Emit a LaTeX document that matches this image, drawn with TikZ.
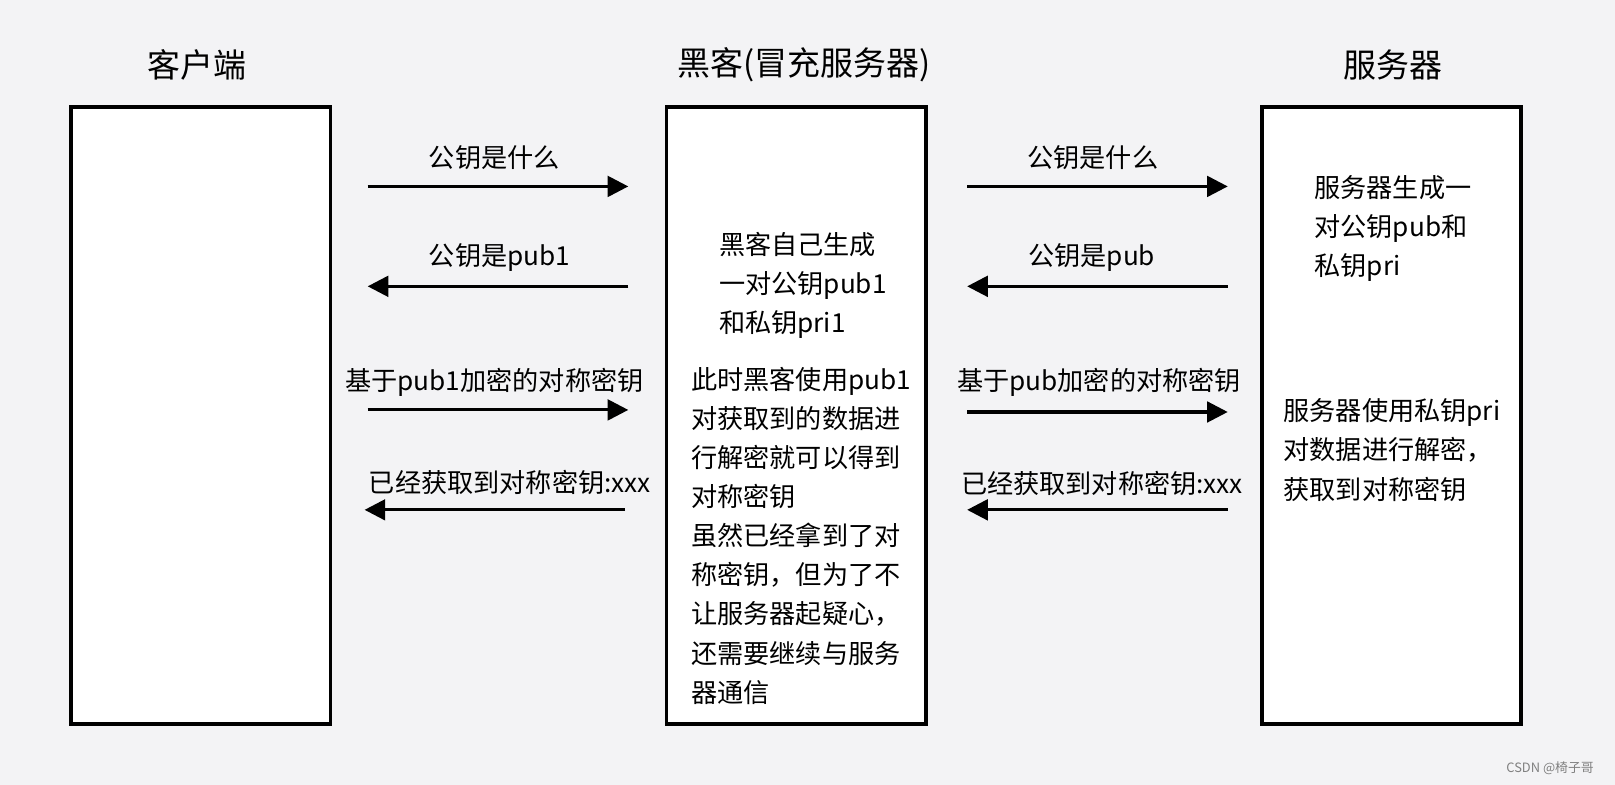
\documentclass[tikz,border=0pt]{standalone}
\usepackage{fontspec}
\setmainfont{Noto Sans CJK SC}
\usetikzlibrary{arrows.meta}
\definecolor{bg}{HTML}{F3F3F5}
\begin{document}
\begin{tikzpicture}[x=1pt,y=-1pt,
  box/.style={draw,line width=3.5pt,fill=white},
  ttl/.style={font=\fontsize{32}{36}\selectfont},
  lab/.style={font=\fontsize{25.4}{28}\selectfont},
  txt/.style={font=\fontsize{25.4}{38}\selectfont,align=left,anchor=north west,inner sep=0pt},
  arr/.style={line width=3pt,-{Triangle[length=20pt,width=20pt]}}]
\fill[bg] (0,0) rectangle (1568,762);
\useasboundingbox (0,0) rectangle (1568,762);
\draw[box] (69,104) rectangle (321,703);
\draw[box] (647,104) rectangle (899,703);
\draw[box] (1225,104) rectangle (1477,703);
\node[ttl] (t1) at (191,63) {客户端};
\node[ttl] (t2) at (781,63) {黑客(冒充服务器)};
\node[ttl] (t3) at (1352,63) {服务器};
% left arrows
\coordinate (a1) at (357,181); \coordinate (b1) at (610,181);
\coordinate (a2) at (610,278); \coordinate (b2) at (357,278);
\coordinate (a3) at (357,398); \coordinate (b3) at (610,398);
\coordinate (a4) at (607,495); \coordinate (b4) at (354,495);
\draw[arr] (a1) -- (b1); \draw[arr] (a2) -- (b2);
\draw[arr] (a3) -- (b3); \draw[arr] (a4) -- (b4);
\node[lab] (l1) at (480,153) {公钥是什么};
\node[lab] (l2) at (485,250) {公钥是pub1};
\node[lab] (l3) at (480,371) {基于pub1加密的对称密钥};
\node[lab] (l4) at (495,468) {已经获取到对称密钥:xxx};
% right arrows
\coordinate (c1) at (939,181); \coordinate (d1) at (1192,181);
\coordinate (c2) at (1192,278); \coordinate (d2) at (939,278);
\coordinate (c3) at (939,400); \coordinate (d3) at (1192,400);
\coordinate (c4) at (1192,495); \coordinate (d4) at (939,495);
\draw[arr] (c1) -- (d1); \draw[arr] (c2) -- (d2);
\draw[arr] (c3) -- (d3); \draw[arr] (c4) -- (d4);
\node[lab] (r1) at (1061,153) {公钥是什么};
\node[lab] (r2) at (1060,250) {公钥是pub};
\node[lab] (r3) at (1067,371) {基于pub加密的对称密钥};
\node[lab] (r4) at (1070,469) {已经获取到对称密钥:xxx};
% box texts
\node[txt] (h1) at (698,225) {黑客自己生成\\一对公钥pub1\\和私钥pri1};
\node[txt] (h2) at (671,356) {此时黑客使用pub1\\对获取到的数据进\\行解密就可以得到\\对称密钥\\虽然已经拿到了对\\称密钥，但为了不\\让服务器起疑心，\\还需要继续与服务\\器通信};
\node[txt] (s1) at (1276,170) {服务器生成一\\对公钥pub和\\私钥pri};
\node[txt] (s2) at (1246,387) {服务器使用私钥pri\\对数据进行解密，\\获取到对称密钥};
\node[font=\fontsize{12.5}{14}\selectfont,text=gray] (wm) at (1505,746) {CSDN @椅子哥};
\end{tikzpicture}
\end{document}
